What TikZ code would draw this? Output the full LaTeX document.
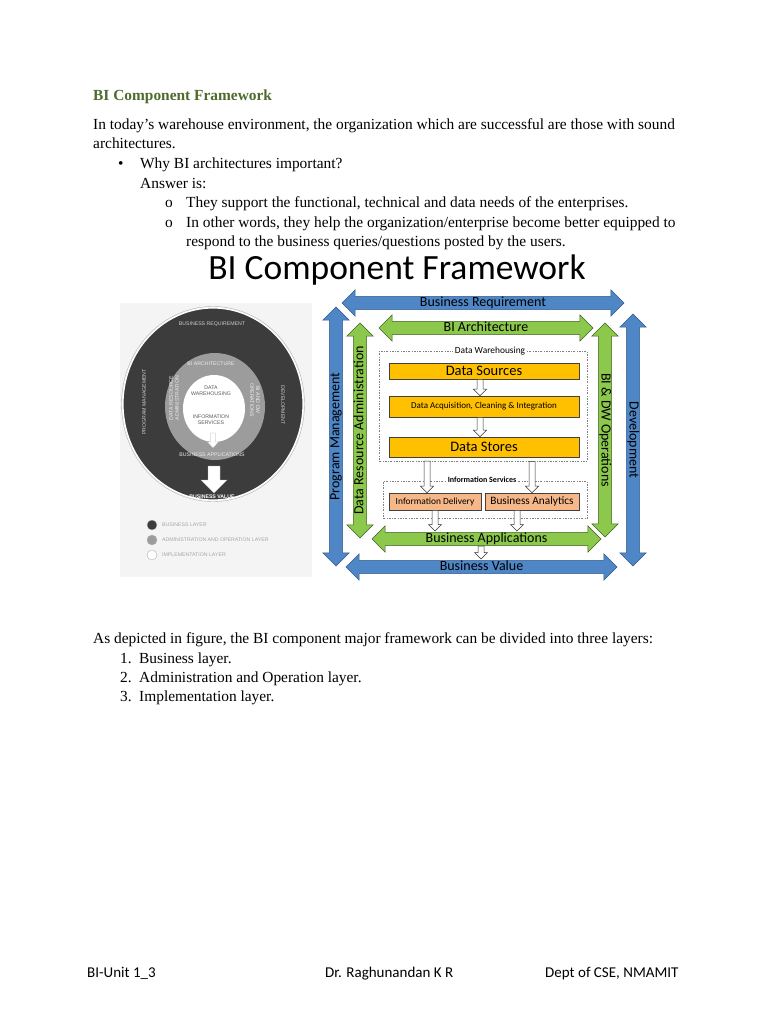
\documentclass[tikz,border=0pt]{standalone}
\usepackage{fontspec}
\setmainfont{Liberation Serif}
\newfontfamily\calibri{Carlito}
\newfontfamily\helv{Liberation Sans}
\usetikzlibrary{shapes.arrows,calc}

\definecolor{headgreen}{HTML}{4E6B2E}
\definecolor{archblue}{HTML}{4F86C6}
\definecolor{archblueline}{HTML}{2F5A8E}
\definecolor{archgreen}{HTML}{8CC84B}
\definecolor{archgreenline}{HTML}{3F5F25}
\definecolor{storeorange}{HTML}{FFC000}
\definecolor{servsalmon}{HTML}{F6B889}
\definecolor{ringdark}{HTML}{3C3C3C}
\definecolor{ringmid}{HTML}{9C9C9C}

\tikzset{
  body/.style={anchor=base west, inner sep=0pt, font=\fontsize{15.4}{18}\selectfont},
  band/.style={double arrow, double arrow head extend=6.5pt, minimum height=#1,
    minimum width=0pt, inner xsep=2pt, inner ysep=0.6pt, text height=9pt,
    text depth=2.4pt, font=\calibri\fontsize{14}{14}\selectfont, line width=0.6pt},
  blueband/.style={band=#1, fill=archblue, draw=archblueline},
  greenband/.style={band=#1, fill=archgreen, draw=archgreenline},
  layerbox/.style={draw=black!75, line width=0.6pt, inner sep=0pt},
  zone/.style={draw=black!50, line width=0.5pt, inner sep=0pt,
    dash pattern=on 2pt off 1.5pt on 0.5pt off 1.5pt},
  hollow/.style={fill=white, draw=black!80, line width=0.5pt,
    to path={let \p1=(\tikztostart), \p2=(\tikztotarget) in
      (\x1-3pt,\y1) -- (\x1-3pt,\y2+6.5pt) -- (\x1-6.5pt,\y2+6.5pt) -- (\x1,\y2)
      -- (\x1+6.5pt,\y2+6.5pt) -- (\x1+3pt,\y2+6.5pt) -- (\x1+3pt,\y1) -- cycle}},
  scan/.style={font=\helv\fontsize{5.2}{6}\selectfont, align=center, inner sep=0pt},
}

\begin{document}
\begin{tikzpicture}[x=1pt, y=-1pt]

  \fill[white] (0,0) rectangle (768,1024);
  \useasboundingbox (0,0) rectangle (768,1024);

  % page text
  \node[body, font=\bfseries\fontsize{15.4}{18}\selectfont, text=headgreen] (head) at (93,101) {BI Component Framework};
  \node[body] (l1) at (93,130) {In today's warehouse environment, the organization which are successful are those with sound};
  \node[body] (l2) at (93,149) {architectures.};
  \node[body] (b1) at (118,169) {\textbullet};
  \node[body] (l3) at (140,169) {Why BI architectures important?};
  \node[body] (l4) at (140,189) {Answer is:};
  \node[body] (o1) at (165,208) {o};
  \node[body] (l5) at (186,208) {They support the functional, technical and data needs of the enterprises.};
  \node[body] (o2) at (165,227) {o};
  \node[body] (l6) at (186,227) {In other words, they help the organization/enterprise become better equipped to};
  \node[body] (l7) at (186,247) {respond to the business queries/questions posted by the users.};

  \node[font=\calibri\fontsize{35.5}{40}\selectfont, inner sep=0pt] (title) at (397,270) {BI Component Framework};

  % scanned circle figure
  \fill[gray!9] (120,303) rectangle (312,577);
  \draw[gray!60, line width=0.4pt] (213,404) ellipse [x radius=91.5, y radius=97.5];
  \draw[fill=ringdark, draw=white, line width=1.2pt] (213,404) ellipse [x radius=90, y radius=96];
  \fill[ringmid] (215,406.5) ellipse [x radius=50, y radius=53.5];
  \fill[white] (214,408.5) ellipse [x radius=31, y radius=33.5];

  \node[scan, text=gray!40] (breq) at (212,324) {BUSINESS REQUIREMENT};
  \node[scan, text=gray!40, rotate=90] (pman) at (144,402) {PROGRAM MANAGEMENT};
  \node[scan, text=gray!40, rotate=-90] (devel) at (283,405) {DEVELOPMENT};
  \node[scan, text=white!85!gray] (barch) at (211,364) {BI ARCHITECTURE};
  \node[scan, text=white!85!gray, rotate=90] (dres) at (174,398) {DATA RESOURCE\\ADMINISTRATION};
  \node[scan, text=white!85!gray, rotate=-90] (bidw) at (255,400) {BI AND DW\\OPERATIONS};
  \node[scan, text=gray!70!black] (dwh) at (211,391) {DATA\\WAREHOUSING};
  \node[scan, text=gray!70!black] (isv) at (211,420) {INFORMATION\\SERVICES};
  \node[scan, text=white!85!gray] (bapp) at (212,455) {BUSINESS APPLICATIONS};
  \node[scan, text=white, font=\helv\bfseries\fontsize{5.2}{6}\selectfont] (bval) at (212,497) {BUSINESS VALUE};

  \draw[fill=white, draw=gray!60, line width=0.3pt] (210.5,433) -- (210.5,442) -- (207.5,442) -- (213,448)
    -- (218.5,442) -- (215.5,442) -- (215.5,433) -- cycle;
  \draw[fill=white, draw=gray!60, line width=0.3pt] (208,466) -- (208,480) -- (201,480) -- (214,493)
    -- (227,480) -- (220,480) -- (220,466) -- cycle;

  \draw[fill=ringdark, draw=gray!60] (152,525) circle [radius=5];
  \draw[fill=ringmid, draw=gray!60] (152,540) circle [radius=5];
  \draw[fill=white, draw=gray!60] (152,555) circle [radius=5];
  \node[scan, anchor=west, text=gray!70] (lg1) at (162,525) {BUSINESS LAYER};
  \node[scan, anchor=west, text=gray!70] (lg2) at (162,540) {ADMINISTRATION AND OPERATION LAYER};
  \node[scan, anchor=west, text=gray!70] (lg3) at (162,555) {IMPLEMENTATION LAYER};

  % framework bands
  \node[blueband=282pt] (breqa) at (483,303) {Business Requirement};
  \node[greenband=214pt] (biarch) at (486,328) {BI Architecture};
  \node[greenband=229pt] (busapp) at (486.5,539) {Business Applications};
  \node[blueband=271pt] (busval) at (481.5,567) {Business Value};
  \node[blueband=259pt, rotate=90] (progman) at (336,436.5) {Program Management};
  \node[greenband=215pt, rotate=90] (dradmin) at (360,430.5) {Data Resource Administration};
  \node[greenband=214pt, rotate=-90] (bidwop) at (605,430) {BI \& DW Operations};
  \node[blueband=252pt, rotate=-90] (develop) at (633,440) {Development};

  % warehousing and services
  \node[zone, minimum width=208pt, minimum height=110pt] (dw) at (483,406) {};
  \node[fill=white, inner sep=1.5pt, font=\calibri\fontsize{9.4}{10}\selectfont] (dwlabel) at (490,351) {Data Warehousing};
  \node[layerbox, fill=storeorange, minimum width=190pt, minimum height=16pt,
    font=\calibri\fontsize{14.5}{15}\selectfont] (dsrc) at (484,371) {Data Sources};
  \node[layerbox, fill=storeorange, minimum width=190pt, minimum height=21pt,
    font=\calibri\fontsize{9}{10}\selectfont] (dacq) at (484,406.5) {Data Acquisition, Cleaning \& Integration};
  \node[layerbox, fill=storeorange, minimum width=190pt, minimum height=20pt,
    font=\calibri\fontsize{14.5}{15}\selectfont] (dstore) at (484,447) {Data Stores};

  \node[zone, minimum width=204pt, minimum height=37pt] (isz) at (485,499.5) {};
  \node[fill=white, inner sep=1.5pt, font=\calibri\bfseries\fontsize{8}{9}\selectfont] (islabel) at (482,480) {Information Services};
  \node[layerbox, fill=servsalmon, minimum width=92pt, minimum height=17pt,
    font=\calibri\fontsize{9.4}{10}\selectfont] (idel) at (435,501.5) {Information Delivery};
  \node[layerbox, fill=servsalmon, minimum width=94pt, minimum height=17pt,
    font=\calibri\fontsize{11.3}{12}\selectfont] (bana) at (532,501.5) {Business Analytics};

  \coordinate (dwout) at (427,461);
  \coordinate (appin) at (0,531);
  \coordinate (appout) at (481,546);
  \coordinate (valin) at (481,559);

  \draw[hollow] ([xshift=-4pt]dsrc.south) to ([xshift=-4pt]dacq.north);
  \draw[hollow] ([xshift=-4pt]dacq.south) to ([xshift=-4pt]dstore.north);
  \draw[hollow] (dwout) to (dwout |- idel.north);
  \draw[hollow] (bana.north |- dw.south) to (bana.north);
  \draw[hollow] (idel.south) to (idel.south |- appin);
  \draw[hollow] ([xshift=-15pt]bana.south) to ([xshift=-15pt]bana.south |- appin);
  \draw[hollow] (appout) to (valin);

  % closing text
  \node[body] (l8) at (93,643) {As depicted in figure, the BI component major framework can be divided into three layers:};
  \node[body] (n1) at (120,663) {1.};
  \node[body] (l9) at (139,663) {Business layer.};
  \node[body] (n2) at (120,682) {2.};
  \node[body] (l10) at (139,682) {Administration and Operation layer.};
  \node[body] (n3) at (120,701) {3.};
  \node[body] (l11) at (139,701) {Implementation layer.};

  % footer
  \node[body, font=\calibri\fontsize{15}{18}\selectfont] (f1) at (87,977) {BI-Unit 1\_3};
  \node[body, font=\calibri\fontsize{15}{18}\selectfont] (f2) at (325,977) {Dr. Raghunandan K R};
  \node[body, font=\calibri\fontsize{15}{18}\selectfont] (f3) at (545,977) {Dept of CSE, NMAMIT};
\end{tikzpicture}
\end{document}
